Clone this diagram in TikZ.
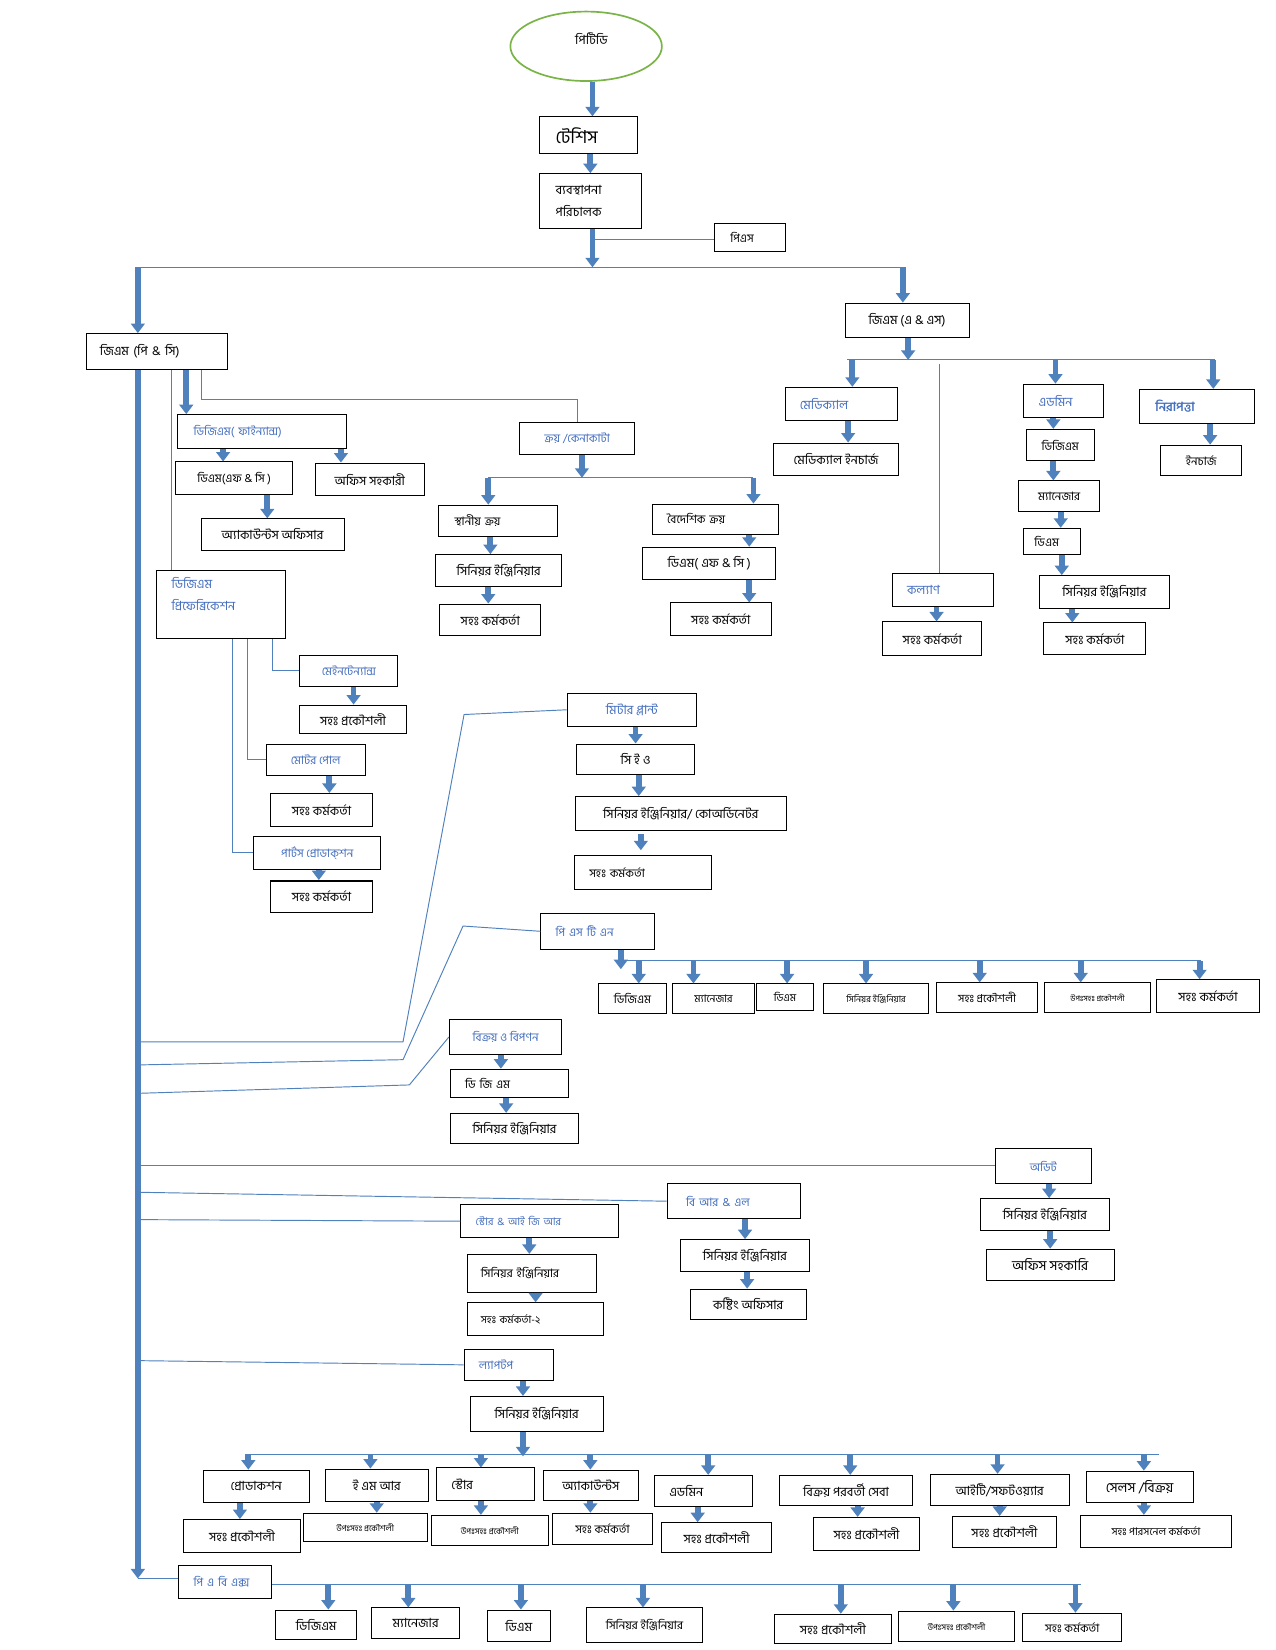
\documentclass[tikz,border=0pt]{standalone}
\usepackage{fontspec}
\setmainfont[Script=Bengali]{Hind Siliguri}
\usetikzlibrary{arrows.meta,shapes.geometric}
\definecolor{ab}{RGB}{79,129,189}
\definecolor{bt}{RGB}{68,110,190}
\definecolor{eg}{RGB}{122,180,72}
\newcommand\mybox[7][]{%
  \pgfmathsetmacro\bxW{#5-#3}\pgfmathsetmacro\bxH{#6-#4}%
  \pgfmathsetmacro\bxX{(#3+#5)/2}\pgfmathsetmacro\bxY{(#4+#6)/2}%
  \node[bx,minimum width=\bxW pt,minimum height=\bxH pt,#1] (#2) at (\bxX,\bxY) {#7};}
\newcommand\varr[3]{\draw[ba] (#2 -| #1,0) -- (#3 -| #1,0);}
\begin{document}
\begin{tikzpicture}[x=1pt,y=-1pt,
  bx/.style={draw=black,line width=0.9pt,fill=white,inner sep=1pt,font=\fontsize{12}{12}\selectfont,text=black},
  bl/.style={text=bt},
  fs/.style={font=\fontsize{#1}{#1}\selectfont},
  lt/.style={text width=\bxW pt-2*#1pt,align=left,inner xsep=#1pt},
  ba/.style={draw=ab,line width=5.5pt,-{Triangle[width=13pt,length=9pt]}},
  tl/.style={draw=ab,line width=0.9pt}]
\fill[white] (0,0) rectangle (1212,1568);
\useasboundingbox (0,0) rectangle (1212,1568);

% ---------- top ----------
\node[ellipse,draw=eg,line width=1.6pt,minimum width=144pt,minimum height=66pt,inner sep=0pt,
      font=\fontsize{12}{12}\selectfont,text depth=14pt] (ptd) at (557,44) {\hspace{10pt}পিটিডি};
\mybox[lt=15,fs=17]{tes}{513}{111}{606}{146}{টেশিস}
\mybox[lt=15,font=\fontsize{12}{21}\selectfont]{ma}{513}{165}{610}{217}{ব্যবস্থাপনা\\পরিচালক}
\mybox[lt=15,fs=11]{ps}{679}{212}{746}{239}{পিএস}

% ---------- GM P&C ----------
\mybox[lt=13]{gmpc}{82}{317}{216}{351}{জিএম (পি \& সি)}
\mybox[bl,lt=15,fs=11]{dgmf}{169}{394}{329}{426}{ডিজিএম( ফাইন্যান্স)}
\mybox[fs=11]{dmfc}{167}{439}{278}{470}{ডিএম(এফ \& সি )}
\mybox{ofs}{300}{440}{403}{471}{অফিস সহকারী}
\mybox{acc}{191}{493}{327}{523}{অ্যাকাউন্টস অফিসার}
\mybox[bl,fs=11]{kroy}{494}{401}{603}{432}{ক্রয় /কেনাকাটা}
\mybox[lt=15,fs=11]{sth}{417}{480}{530}{510}{স্থানীয় ক্রয়}
\mybox{sse1}{414}{527}{534}{557}{সিনিয়র ইঞ্জিনিয়ার}
\mybox{sk1}{418}{574}{514}{604}{সহঃ কর্মকর্তা}
\mybox[lt=14,fs=11]{boi}{620}{479}{740}{508}{বৈদেশিক ক্রয়}
\mybox{dmfc2}{611}{520}{737}{551}{ডিএম( এফ \& সি )}
\mybox{sk2}{637}{573}{733}{604}{সহঃ কর্মকর্তা}

% ---------- GM A&S ----------
\mybox{gmas}{803}{288}{921}{321}{জিএম (এ \& এস)}
\mybox[bl,lt=14]{med}{746}{368}{853}{400}{মেডিক্যাল}
\mybox{medi}{735}{421}{854}{452}{মেডিক্যাল ইনচার্জ}
\mybox[bl,lt=14]{adm}{973}{365}{1049}{397}{এডমিন}
\mybox[fs=11]{dgm2}{975}{408}{1040}{438}{ডিজিএম}
\mybox[fs=11]{mgr}{968}{457}{1045}{486}{ম্যানেজার}
\mybox[lt=10,fs=11]{dm2}{973}{502}{1027}{527}{ডিএম}
\mybox{sse2}{988}{547}{1111}{578}{সিনিয়র ইঞ্জিনিয়ার}
\mybox{sk3}{992}{592}{1089}{622}{সহঃ কর্মকর্তা}
\mybox[bl,lt=15,font=\fontsize{12}{12}\selectfont\bfseries]{nir}{1083}{370}{1192}{402}{নিরাপত্তা}
\mybox[fs=11]{inc}{1103}{423}{1180}{452}{ইনচার্জ}
\mybox[bl,lt=14]{kal}{848}{545}{944}{576}{কল্যাণ}
\mybox{sk4}{839}{591}{933}{623}{সহঃ কর্মকর্তা}

% ---------- prefabrication ----------
\mybox[bl,lt=14,font=\fontsize{12}{21}\selectfont]{pf}{149}{542}{271}{607}{ডিজিএম\\প্রিফেব্রিকেশন\\\mbox{}}
\mybox[bl,fs=11]{mnt}{285}{623}{378}{652}{মেইনটেন্যান্স}
\mybox{sp1}{285}{670}{386}{697}{সহঃ প্রকৌশলী}
\mybox[bl,fs=11]{mtr}{253}{707}{347}{737}{মোটর পোল}
\mybox{sk5}{257}{754}{354}{785}{সহঃ কর্মকর্তা}
\mybox[bl,fs=11]{prt}{241}{795}{362}{826}{পার্টস প্রোডাক্শন}
\mybox[line width=1.4pt]{sk6}{257}{837}{354}{867}{সহঃ কর্মকর্তা}

% ---------- meter plant ----------
\mybox[bl]{mp}{539}{659}{662}{690}{মিটার প্লান্ট}
\mybox{ceo}{548}{707}{660}{736}{সি ই ও}
\mybox{coord}{547}{757}{747}{789}{সিনিয়র ইঞ্জিনিয়ার/ কোঅর্ডিনেটর}
\mybox[lt=14,fs=11]{sk7}{546}{813}{676}{845}{সহঃ কর্মকর্তা}

% ---------- PSTN ----------
\mybox[bl,lt=14,fs=11]{pstn}{514}{868}{622}{902}{পি এস টি এন}
\mybox[fs=11]{p1}{569}{935}{633}{963}{ডিজিএম}
\mybox[fs=10]{p2}{639}{935}{717}{963}{ম্যানেজার}
\mybox[fs=10]{p3}{719}{935}{773}{960}{ডিএম}
\mybox[fs=8.5]{p4}{783}{935}{882}{963}{সিনিয়র ইঞ্জিনিয়ার}
\mybox[fs=10.5]{p5}{890}{934}{986}{962}{সহঃ প্রকৌশলী}
\mybox[fs=7.5]{p6}{993}{934}{1093}{962}{উপঃসহঃ প্রকৌশলী}
\mybox{p7}{1099}{931}{1197}{962}{সহঃ কর্মকর্তা}

% ---------- sales ----------
\mybox[bl,fs=11]{bik}{427}{969}{534}{1002}{বিক্রয় ও বিপণন}
\mybox[lt=14,fs=11]{dgm3}{428}{1016}{540}{1043}{ডি জি এম}
\mybox{sse3}{428}{1058}{550}{1087}{সিনিয়র ইঞ্জিনিয়ার}

% ---------- audit ----------
\mybox[bl,fs=11]{aud}{946}{1091}{1037}{1125}{অডিট}
\mybox{sse4}{932}{1139}{1054}{1169}{সিনিয়র ইঞ্জিনিয়ার}
\mybox[fs=13]{ofs2}{937}{1187}{1059}{1217}{অফিস সহকারি}

% ---------- BR&L ----------
\mybox[bl,lt=18,fs=11]{brl}{634}{1125}{761}{1158}{বি আর \& এল}
\mybox{sse5}{647}{1178}{769}{1208}{সিনিয়র ইঞ্জিনিয়ার}
\mybox{cst}{656}{1225}{766}{1254}{কষ্টিং অফিসার}

% ---------- store ----------
\mybox[bl,lt=14,fs=10]{stg}{438}{1145}{588}{1176}{স্টোর \& আই জি আর}
\mybox[lt=13,fs=11]{sse6}{444}{1192}{567}{1228}{সিনিয়র ইঞ্জিনিয়ার}
\mybox[lt=13,fs=10]{sk8}{444}{1238}{573}{1269}{সহঃ কর্মকর্তা-২}

% ---------- laptop ----------
\mybox[bl,lt=14,fs=11]{lap}{441}{1282}{526}{1312}{ল্যাপটপ}
\mybox{sse7}{447}{1327}{573}{1360}{সিনিয়র ইঞ্জিনিয়ার}
\mybox{l1}{193}{1397}{294}{1428}{প্রোডাকশন}
\mybox{l2}{309}{1396}{407}{1427}{ই এম আর}
\mybox[lt=14]{l3}{415}{1395}{508}{1426}{স্টোর}
\mybox{l4}{516}{1397}{607}{1426}{অ্যাকাউন্টস}
\mybox[lt=14]{l5}{622}{1402}{715}{1432}{এডমিন}
\mybox{l6}{741}{1402}{867}{1431}{বিক্রয় পরবর্তী সেবা}
\mybox{l7}{884}{1401}{1016}{1431}{আইটি/সফটওয়্যার}
\mybox[fs=13]{l8}{1032}{1398}{1134}{1428}{সেলস /বিক্রয়}
\mybox{m1}{174}{1444}{286}{1475}{সহঃ প্রকৌশলী}
\mybox[fs=8]{m2}{288}{1438}{406}{1465}{উপঃসহঃ প্রকৌশলী}
\mybox[fs=8]{m3}{410}{1440}{521}{1469}{উপঃসহঃ প্রকৌশলী}
\mybox[fs=11]{m4}{525}{1438}{620}{1468}{সহঃ কর্মকর্তা}
\mybox{m5}{629}{1447}{733}{1475}{সহঃ প্রকৌশলী}
\mybox{m6}{773}{1442}{874}{1473}{সহঃ প্রকৌশলী}
\mybox{m7}{905}{1441}{1004}{1471}{সহঃ প্রকৌশলী}
\mybox[fs=10]{m8}{1027}{1440}{1170}{1471}{সহঃ পারসনেল কর্মকর্তা}

% ---------- PABX ----------
\mybox[bl,lt=14,fs=11]{pabx}{170}{1488}{258}{1519}{পি এ বি এক্স}
\mybox{q1}{262}{1530}{339}{1558}{ডিজিএম}
\mybox{q2}{353}{1528}{437}{1557}{ম্যানেজার}
\mybox{q3}{463}{1530}{523}{1560}{ডিএম}
\mybox[fs=11]{q4}{557}{1528}{668}{1561}{সিনিয়র ইঞ্জিনিয়ার}
\mybox{q5}{736}{1534}{847}{1562}{সহঃ প্রকৌশলী}
\mybox[fs=8]{q6}{854}{1531}{964}{1560}{উপঃসহঃ প্রকৌশলী}
\mybox[fs=11]{q7}{972}{1533}{1066}{1560}{সহঃ কর্মকর্তা}

% ================= connectors =================
\coordinate (hL) at (131,254); \coordinate (hM) at (563,254); \coordinate (hR) at (858,254);
\coordinate (psj) at (563,228);
\varr{563}{ptd.south}{tes.north}
\varr{561}{tes.south}{ma.north}
\draw[tl] (psj) -- (ps.west |- psj);
\draw[tl] (hL) -- (hR);
\draw[ba] (ma.south -| hM) -- (hM);
\draw[ba] (hL) -- (gmpc.north -| hL);
\draw[ba] (hR) -- (gmas.north -| hR);

% GM A&S
\coordinate (asL) at (805,342); \coordinate (asR) at (1155,342);
\draw[tl] (asL) -- (asR);
\varr{863}{gmas.south}{asL}
\varr{810}{asL}{med.north}
\varr{1003}{asL}{adm.north}
\varr{1153}{asL}{nir.north}
\draw[tl] (893,346) -- (kal.north -| 893,0);
\varr{806}{med.south}{medi.north}
\varr{1001}{adm.south}{dgm2.north}
\varr{1001}{dgm2.south}{mgr.north}
\varr{1008}{mgr.south}{dm2.north}
\varr{1009}{dm2.south}{sse2.north}
\varr{1019}{sse2.south}{sk3.north}
\varr{1150}{nir.south}{inc.north}
\varr{890}{kal.south}{sk4.north}

% GM P&C trunk
\coordinate (tEnd) at (131,1500);
\draw[ba] (gmpc.south -| hL) -- (tEnd);
\draw[tl] (tEnd) -- (pabx.west |- tEnd);
\draw[tl] (gmpc.south -| 163,0) -- (pf.north -| 163,0);
\varr{177}{gmpc.south}{dgmf.north}
\coordinate (k1) at (191,380);
\draw[tl] (gmpc.south -| k1) -- (k1) -| (kroy.north);
\varr{212}{dgmf.south}{dmfc.north}
\varr{324}{dgmf.south}{ofs.north}
\varr{254}{dmfc.south}{acc.north}
\coordinate (kL) at (464,454); \coordinate (kR) at (716,454);
\draw[tl] (kL) -- (kR);
\varr{553}{kroy.south}{kL}
\varr{464}{kL}{sth.north}
\varr{716}{kL}{boi.north}
\varr{466}{sth.south}{sse1.north}
\varr{464}{sse1.south}{sk1.north}
\varr{712}{boi.south}{dmfc2.north}
\varr{712}{dmfc2.south}{sk2.north}

% prefabrication
\draw[tl] (pf.south -| 259,0) |- (mnt.west);
\draw[tl] (pf.south -| 235,0) |- (mtr.west);
\draw[tl] (pf.south -| 221,0) |- (prt.west);
\varr{336}{mnt.south}{sp1.north}
\varr{313}{mtr.south}{sk5.north}
\varr{303}{prt.south}{sk6.north}

% meter plant, PSTN, sales
\coordinate (t1) at (131,990); \coordinate (t2) at (131,1012); \coordinate (t3) at (131,1039);
\draw[tl] (t1) -- (383,990) -- (441,679) -- (mp.west);
\draw[tl] (t2) -- (383,1007) -- (440,880) -- (pstn.west);
\draw[tl] (t3) -- (389,1031) -- (bik.west);
\varr{604}{mp.south}{ceo.north}
\varr{607}{ceo.south}{coord.north}
\coordinate (c1) at (609,808);
\draw[ba] (coord.south -| c1) ++(0,3) -- (c1);
\coordinate (pj) at (590,921);
\coordinate (psL) at (590,913); \coordinate (psR) at (1141,913);
\draw[tl] (psL) -- (psR);
\draw[ba] (pstn.south -| pj) -- (pj);
\varr{607}{psL}{p1.north}
\varr{659}{psL}{p2.north}
\varr{748}{psL}{p3.north}
\varr{823}{psL}{p4.north}
\varr{931}{psL}{p5.north}
\varr{1027}{psL}{p6.north}
\varr{1140}{psL}{p7.north}
\varr{476}{bik.south}{dgm3.north}
\varr{481}{dgm3.south}{sse3.north}

% audit, BR&L, store
\coordinate (t4) at (131,1108); \coordinate (t5) at (131,1133); \coordinate (t6) at (131,1159);
\draw[tl] (t4) -- (aud.west);
\draw[tl] (t5) -- (brl.west);
\draw[tl] (t6) -- (stg.west);
\varr{997}{aud.south}{sse4.north}
\varr{998}{sse4.south}{ofs2.north}
\varr{708}{brl.south}{sse5.north}
\varr{710}{sse5.south}{cst.north}
\varr{503}{stg.south}{sse6.north}
\varr{509}{sse6.south}{sk8.north}

% laptop
\coordinate (t7) at (131,1293);
\draw[tl] (t7) -- (lap.west);
\varr{497}{lap.south}{sse7.north}
\coordinate (lpL) at (236,1382); \coordinate (lpR) at (1101,1382);
\coordinate (lpM) at (497,1384);
\draw[tl] (lpL) -- (lpR);
\draw[ba] (sse7.south -| lpM) -- (lpM);
\varr{236}{lpL}{l1.north}
\varr{352}{lpL}{l2.north}
\varr{457}{lpL}{l3.north}
\varr{561}{lpL}{l4.north}
\varr{673}{lpL}{l5.north}
\varr{808}{lpL}{l6.north}
\varr{948}{lpL}{l7.north}
\varr{1087}{lpL}{l8.north}
\varr{228}{l1.south}{m1.north}
\varr{358}{l2.south}{m2.north}
\varr{457}{l3.south}{m3.north}
\varr{561}{l4.south}{m4.north}
\varr{663}{l5.south}{m5.north}
\varr{815}{l6.south}{m6.north}
\varr{950}{l7.south}{m7.north}
\varr{1087}{l8.south}{m8.north}

% PABX
\coordinate (pxR) at (1027,1506);
\draw[tl] (pabx.east |- pxR) -- (pxR);
\varr{312}{pxR}{q1.north}
\varr{388}{pxR}{q2.north}
\varr{495}{pxR}{q3.north}
\varr{611}{pxR}{q4.north}
\varr{799}{pxR}{q5.north}
\varr{906}{pxR}{q6.north}
\varr{1022}{pxR}{q7.north}
\end{tikzpicture}
\end{document}
